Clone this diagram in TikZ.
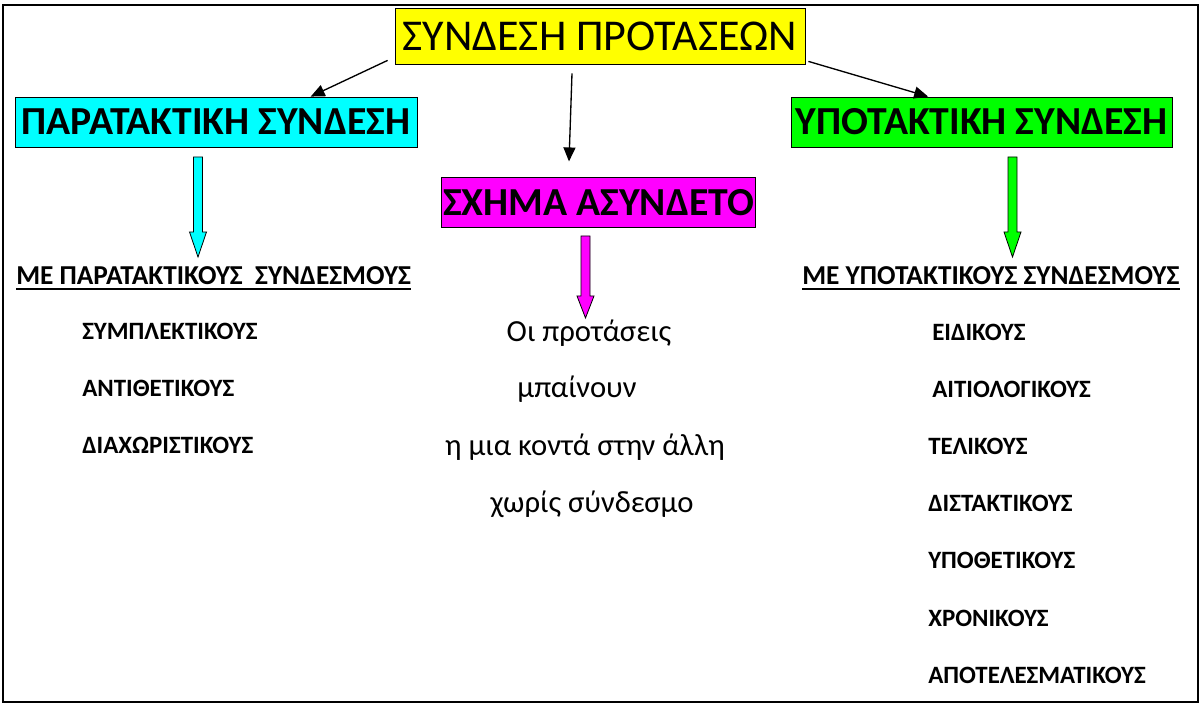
\documentclass[tikz,border=0pt]{standalone}
\usepackage{fontspec}
\setmainfont{Carlito}
\usetikzlibrary{arrows.meta}

\definecolor{jaune}{RGB}{255,255,0}
\definecolor{cyanvif}{RGB}{0,255,255}
\definecolor{vert}{RGB}{0,255,0}
\definecolor{magentavif}{RGB}{255,0,255}

\tikzset{
  boite/.style={draw, line width=0.6pt, inner sep=0pt, font=\fontsize{29.8}{30}\selectfont\bfseries},
  lien/.style={line width=1pt, -{Triangle[length=10.5pt,width=9pt]}},
  soustitre/.style={anchor=base west, inner sep=0pt, font=\fontsize{20.5}{22}\selectfont\bfseries},
  liste/.style={anchor=base west, inner sep=0pt, font=\fontsize{18.7}{20}\selectfont\bfseries},
  texte/.style={anchor=base, inner sep=0pt, font=\fontsize{23}{25}\selectfont},
  souligne/.style={line width=1.5pt},
}

\begin{document}
\begin{tikzpicture}[x=0.75pt, y=-0.75pt]
\useasboundingbox (0,0) rectangle (1204,712);
% Cadre
\draw[line width=1pt] (3,5) rectangle (1198,702);

% Titre et les trois cas
\node[draw, line width=0.6pt, fill=jaune, inner sep=0pt, minimum width=307.5pt, minimum height=42pt,
  font=\fontsize{33}{34}\selectfont] (titre) at (600,36) {ΣΥΝΔΕΣΗ ΠΡΟΤΑΣΕΩΝ};
\node[boite, fill=cyanvif, minimum width=301.5pt, minimum height=37.5pt] (para) at (216,122) {ΠΑΡΑΤΑΚΤΙΚΗ ΣΥΝΔΕΣΗ};
\node[boite, fill=vert, minimum width=285.75pt, minimum height=37.5pt] (ypo) at (981.5,122) {ΥΠΟΤΑΚΤΙΚΗ ΣΥΝΔΕΣΗ};
\node[boite, fill=magentavif, minimum width=236pt, minimum height=37pt] (asyn) at (598.5,202.5) {ΣΧΗΜΑ ΑΣΥΝΔΕΤΟ};

% Fleches fines
\draw[lien] ([shift={(-7,-4)}]titre.south west) -- ([xshift=71]para.north);
\draw[lien] ([shift={(3,-3)}]titre.south east) -- ([xshift=-40]ypo.north);
\draw[lien] ([shift={(-28,9)}]titre.south) -- ([shift={(-29.5,-16)}]asyn.north);

% Fleches pleines
\foreach \cx/\yt/\yh/\yb/\c in {198/157/232/257/cyanvif, 1012.5/157/232/257/vert, 585.5/236/296/318/magentavif}
  \filldraw[fill=\c, draw=black, line width=0.6pt] (\cx-4.5,\yt) -- (\cx+4.5,\yt) -- (\cx+4.5,\yh) -- (\cx+8.5,\yh)
    -- (\cx,\yb) -- (\cx-8.5,\yh) -- (\cx-4.5,\yh) -- cycle;

% Parataxe
\node[soustitre] (mepara) at (16,285) {ΜΕ ΠΑΡΑΤΑΚΤΙΚΟΥΣ\ \ ΣΥΝΔΕΣΜΟΥΣ};
\draw[souligne] ([yshift=-3pt]mepara.base west) -- ([yshift=-3pt]mepara.base east);
\foreach \t [count=\i] in {ΣΥΜΠΛΕΚΤΙΚΟΥΣ, ΑΝΤΙΘΕΤΙΚΟΥΣ, ΔΙΑΧΩΡΙΣΤΙΚΟΥΣ}
  \node[liste] (p\i) at (82,283+57*\i) {\t};

% Asyndeto
\node[texte] (l1) at (589,342) {Οι προτάσεις};
\node[texte] (l2) at (577,398) {μπαίνουν};
\node[texte] (l3) at (585,456) {η μια κοντά στην άλλη};
\node[texte] (l4) at (592,513) {χωρίς σύνδεσμο};

% Hypotaxe
\node[soustitre] (meypo) at (802,285) {ΜΕ ΥΠΟΤΑΚΤΙΚΟΥΣ ΣΥΝΔΕΣΜΟΥΣ};
\draw[souligne] ([yshift=-3pt]meypo.base west) -- ([yshift=-3pt]meypo.base east);
\foreach \t/\x [count=\i] in {ΕΙΔΙΚΟΥΣ/932, ΑΙΤΙΟΛΟΓΙΚΟΥΣ/932, ΤΕΛΙΚΟΥΣ/928, ΔΙΣΤΑΚΤΙΚΟΥΣ/928,
    ΥΠΟΘΕΤΙΚΟΥΣ/928, ΧΡΟΝΙΚΟΥΣ/928, ΑΠΟΤΕΛΕΣΜΑΤΙΚΟΥΣ/928}
  \node[liste] (y\i) at (\x,283+57.2*\i) {\t};
\end{tikzpicture}
\end{document}
